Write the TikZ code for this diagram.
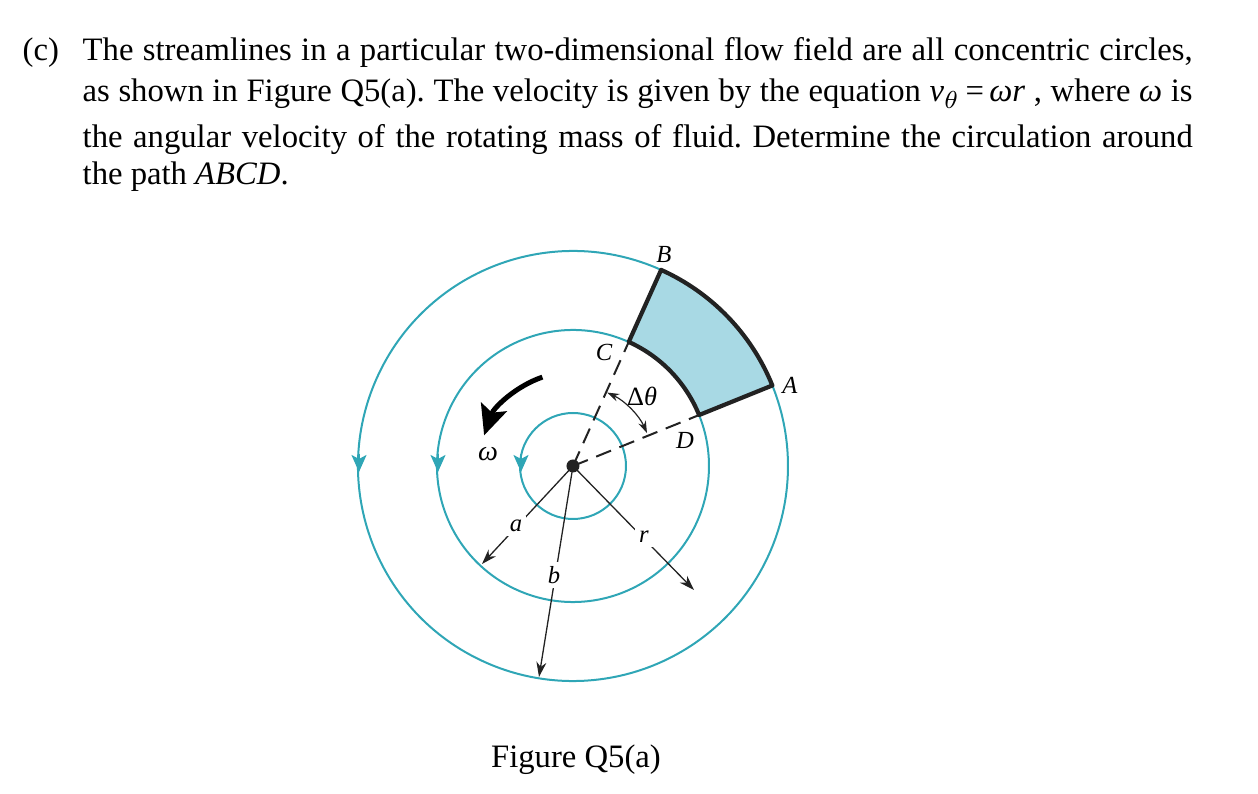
\documentclass[tikz,border=0pt]{standalone}
\usepackage{fontspec}
\setmainfont{Liberation Serif}
\usetikzlibrary{arrows.meta}
\definecolor{flowline}{HTML}{2FA6B6}
\definecolor{pathfill}{HTML}{A8D9E4}
\definecolor{inkdark}{HTML}{222222}
\frenchspacing
\tikzset{%
  bodytext/.style = {anchor=base west, inner sep=0pt, font=\fontsize{9.3}{10}\selectfont},
  streamline/.style = {draw=flowline, line width=0.02cm},
  flowtip/.style = {draw=flowline, line width=0.02cm,
    -{Stealth[length=0.17cm, width=0.15cm, inset=0.04cm]}},
  pathedge/.style = {draw=inkdark, line width=0.042cm, line join=round},
  radial/.style = {draw=inkdark, line width=0.02cm, dash pattern=on 0.16cm off 0.09cm},
  dimline/.style = {draw=inkdark, line width=0.013cm,
    -{Stealth[length=0.15cm, width=0.1cm]}},
  letter/.style = {inner sep=1pt, font=\fontsize{7}{8}\selectfont\itshape},
  gaplabel/.style = {letter, fill=white, inner sep=1.2pt}
}
\begin{document}
\begin{tikzpicture}
  \useasboundingbox (-5.73,-3.28) rectangle (6.85,4.66);
  % question text
  \node[bodytext] (part) at (-5.51,4.05) {(c)};
  \node[bodytext] (line1) at (-4.91,4.05) {\makebox[11.10cm][s]{The streamlines in a particular two-dimensional flow field are all concentric circles,}};
  \node[bodytext] (line2) at (-4.91,3.64) {\makebox[11.10cm][s]{as shown in Figure Q5(a). The velocity is given by the equation \textit{v}$_\theta$\,=\,\textit{ωr} , where \textit{ω} is}};
  \node[bodytext] (line3) at (-4.91,3.18) {\makebox[11.10cm][s]{the angular velocity of the rotating mass of fluid. Determine the circulation around}};
  \node[bodytext] (line4) at (-4.91,2.81) {the path \textit{ABCD}.};
  % corners of the path
  \coordinate (O) at (0,0);
  \coordinate (A) at (22:2.15);
  \coordinate (B) at (65.8:2.15);
  \coordinate (C) at (65.8:1.36);
  \coordinate (D) at (22:1.36);
  % shaded element
  \fill[pathfill] (A) arc[start angle=22, end angle=65.8, radius=2.15]
    -- (C) arc[start angle=65.8, end angle=22, radius=1.36] -- cycle;
  % streamlines
  \draw[streamline] (B) arc[start angle=65.8, end angle=382, radius=2.15];
  \draw[streamline] (C) arc[start angle=65.8, end angle=382, radius=1.36];
  \draw[streamline] (O) circle[radius=0.53];
  \coordinate (outerA) at (-2.14,0.12);
  \coordinate (outerB) at (-2.14,-0.06);
  \coordinate (midA) at (-1.35,0.12);
  \coordinate (midB) at (-1.35,-0.06);
  \coordinate (innerA) at (-0.52,0.12);
  \coordinate (innerB) at (-0.52,-0.06);
  \draw[flowtip] (outerA) -- (outerB);
  \draw[flowtip] (midA) -- (midB);
  \draw[flowtip] (innerA) -- (innerB);
  % radial lines
  \draw[radial] (O) -- (C);
  \draw[radial] (O) -- (D);
  \draw[pathedge] (A) arc[start angle=22, end angle=65.8, radius=2.15]
    -- (C) arc[start angle=65.8, end angle=22, radius=1.36] -- cycle;
  \fill[inkdark] (O) circle[radius=0.065];
  % dimensions
  \coordinate (tipa) at (-0.91,-0.98);
  \coordinate (tipb) at (-0.34,-2.11);
  \coordinate (tipr) at (1.21,-1.24);
  \draw[dimline] (O) -- (tipa);
  \draw[dimline] (O) -- (tipb);
  \draw[dimline] (O) -- (tipr);
  \node[gaplabel] (laba) at (-0.57,-0.60) {a};
  \node[gaplabel] (labb) at (-0.19,-1.09) {b};
  \node[gaplabel] (labr) at (0.71,-0.71) {r};
  % angle and rotation
  \draw[draw=inkdark, line width=0.012cm, {Stealth[length=0.12cm, width=0.08cm]}-{Stealth[length=0.12cm, width=0.08cm]}]
    (65:0.81) arc[start angle=65, end angle=24, radius=0.81];
  \draw[draw=black, line width=0.05cm, -{Stealth[length=0.3cm, width=0.27cm, inset=0.06cm]}]
    (109:0.94) arc[start angle=109, end angle=161, radius=0.94];
  \node[letter] (labA) at (2.17,0.81) {A};
  \node[letter] (labB) at (0.91,2.12) {B};
  \node[letter] (labC) at (0.31,1.14) {C};
  \node[letter] (labD) at (1.12,0.26) {D};
  \node[letter, font=\fontsize{7.5}{8}\selectfont] (labangle) at (0.69,0.70) {Δ\textit{θ}};
  \node[letter, font=\fontsize{8}{8}\selectfont\itshape] (labomega) at (-0.85,0.12) {ω};
  % caption
  \node[bodytext, anchor=base] (caption) at (0.03,-3.02) {Figure Q5(a)};
\end{tikzpicture}
\end{document}
